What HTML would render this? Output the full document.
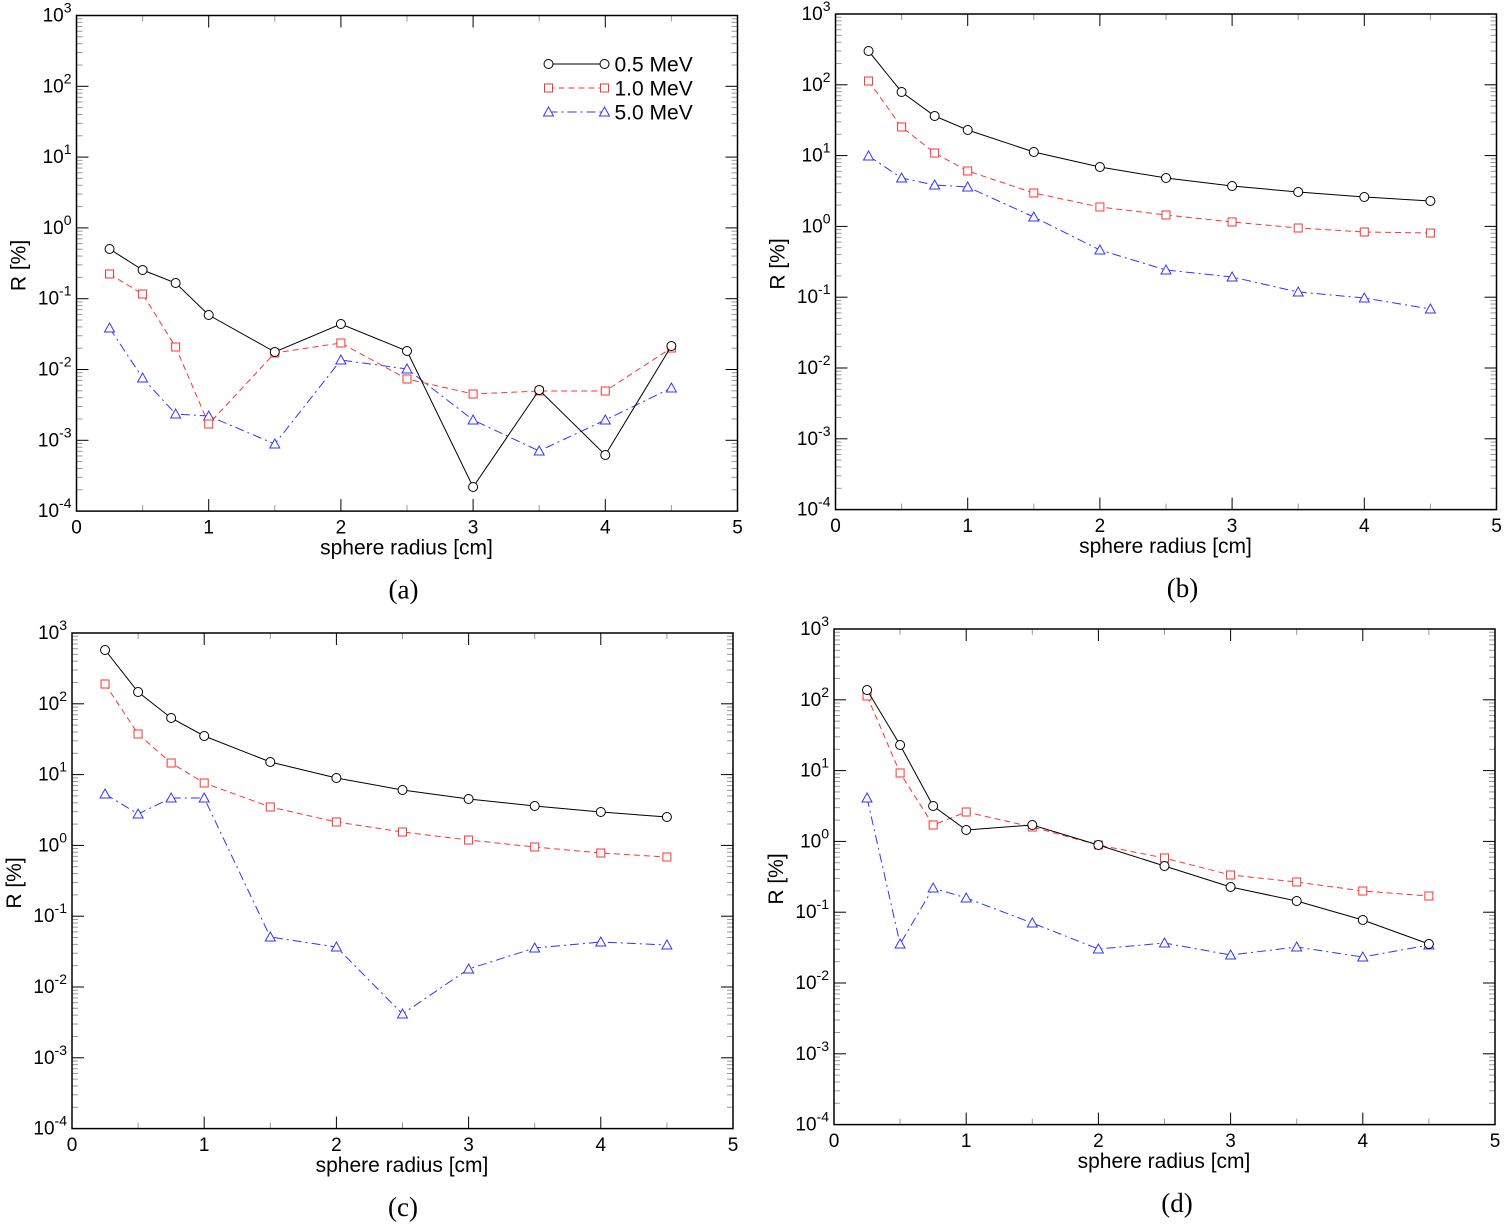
<!DOCTYPE html>
<html><head><meta charset="utf-8"><style>
html,body{margin:0;padding:0;background:#fff;}
svg{display:block;font-family:"Liberation Sans",Arial,sans-serif;}
.yl{font-size:19px;text-anchor:end;}
.yl tspan.s{font-size:14px;}
.xl{font-size:19px;text-anchor:middle;}
.ax{font-size:21px;text-anchor:middle;}
.cap{font-family:"Liberation Serif",serif;font-size:27px;text-anchor:middle;}
.lg{font-size:21px;}
</style></head><body>
<svg id="s" width="1504" height="1228" viewBox="0 0 1504 1228" xmlns="http://www.w3.org/2000/svg">
<g id="pa" transform="translate(76.5,15.5)">
<text class="yl" x="-5" y="6">10<tspan class="s" dy="-9">3</tspan></text>
<text class="yl" x="-5" y="76.8">10<tspan class="s" dy="-9">2</tspan></text>
<text class="yl" x="-5" y="147.6">10<tspan class="s" dy="-9">1</tspan></text>
<text class="yl" x="-5" y="218.4">10<tspan class="s" dy="-9">0</tspan></text>
<text class="yl" x="-5" y="289.2">10<tspan class="s" dy="-9">-1</tspan></text>
<text class="yl" x="-5" y="360">10<tspan class="s" dy="-9">-2</tspan></text>
<text class="yl" x="-5" y="430.8">10<tspan class="s" dy="-9">-3</tspan></text>
<text class="yl" x="-5" y="501.6">10<tspan class="s" dy="-9">-4</tspan></text>
<text class="xl" x="0" y="518">0</text><text class="xl" x="132.2" y="518">1</text><text class="xl" x="264.4" y="518">2</text><text class="xl" x="396.6" y="518">3</text><text class="xl" x="528.8" y="518">4</text><text class="xl" x="661" y="518">5</text>
<text class="ax" x="330" y="539">sphere radius [cm]</text>
<text class="ax" transform="translate(-51,250) rotate(-90)">R [%]</text>
<text class="cap" x="327" y="583">(a)</text>
<text class="lg" x="538" y="56">0.5 MeV</text>
<text class="lg" x="538" y="80">1.0 MeV</text>
<text class="lg" x="538" y="104">5.0 MeV</text>
</g>
<g id="pb" transform="translate(835.5,14)">
<text class="yl" x="-5" y="6">10<tspan class="s" dy="-9">3</tspan></text>
<text class="yl" x="-5" y="76.8">10<tspan class="s" dy="-9">2</tspan></text>
<text class="yl" x="-5" y="147.6">10<tspan class="s" dy="-9">1</tspan></text>
<text class="yl" x="-5" y="218.4">10<tspan class="s" dy="-9">0</tspan></text>
<text class="yl" x="-5" y="289.2">10<tspan class="s" dy="-9">-1</tspan></text>
<text class="yl" x="-5" y="360">10<tspan class="s" dy="-9">-2</tspan></text>
<text class="yl" x="-5" y="430.8">10<tspan class="s" dy="-9">-3</tspan></text>
<text class="yl" x="-5" y="501.6">10<tspan class="s" dy="-9">-4</tspan></text>
<text class="xl" x="0" y="518">0</text><text class="xl" x="132.2" y="518">1</text><text class="xl" x="264.4" y="518">2</text><text class="xl" x="396.6" y="518">3</text><text class="xl" x="528.8" y="518">4</text><text class="xl" x="661" y="518">5</text>
<text class="ax" x="330" y="539">sphere radius [cm]</text>
<text class="ax" transform="translate(-51,250) rotate(-90)">R [%]</text>
<text class="cap" x="347" y="583">(b)</text>
</g>
<g id="pc" transform="translate(72,633)">
<text class="yl" x="-5" y="6">10<tspan class="s" dy="-9">3</tspan></text>
<text class="yl" x="-5" y="76.8">10<tspan class="s" dy="-9">2</tspan></text>
<text class="yl" x="-5" y="147.6">10<tspan class="s" dy="-9">1</tspan></text>
<text class="yl" x="-5" y="218.4">10<tspan class="s" dy="-9">0</tspan></text>
<text class="yl" x="-5" y="289.2">10<tspan class="s" dy="-9">-1</tspan></text>
<text class="yl" x="-5" y="360">10<tspan class="s" dy="-9">-2</tspan></text>
<text class="yl" x="-5" y="430.8">10<tspan class="s" dy="-9">-3</tspan></text>
<text class="yl" x="-5" y="501.6">10<tspan class="s" dy="-9">-4</tspan></text>
<text class="xl" x="0" y="518">0</text><text class="xl" x="132.2" y="518">1</text><text class="xl" x="264.4" y="518">2</text><text class="xl" x="396.6" y="518">3</text><text class="xl" x="528.8" y="518">4</text><text class="xl" x="661" y="518">5</text>
<text class="ax" x="330" y="539">sphere radius [cm]</text>
<text class="ax" transform="translate(-51,250) rotate(-90)">R [%]</text>
<text class="cap" x="331" y="583">(c)</text>
</g>
<g id="pd" transform="translate(834,629)">
<text class="yl" x="-5" y="6">10<tspan class="s" dy="-9">3</tspan></text>
<text class="yl" x="-5" y="76.8">10<tspan class="s" dy="-9">2</tspan></text>
<text class="yl" x="-5" y="147.6">10<tspan class="s" dy="-9">1</tspan></text>
<text class="yl" x="-5" y="218.4">10<tspan class="s" dy="-9">0</tspan></text>
<text class="yl" x="-5" y="289.2">10<tspan class="s" dy="-9">-1</tspan></text>
<text class="yl" x="-5" y="360">10<tspan class="s" dy="-9">-2</tspan></text>
<text class="yl" x="-5" y="430.8">10<tspan class="s" dy="-9">-3</tspan></text>
<text class="yl" x="-5" y="501.6">10<tspan class="s" dy="-9">-4</tspan></text>
<text class="xl" x="0" y="518">0</text><text class="xl" x="132.2" y="518">1</text><text class="xl" x="264.4" y="518">2</text><text class="xl" x="396.6" y="518">3</text><text class="xl" x="528.8" y="518">4</text><text class="xl" x="661" y="518">5</text>
<text class="ax" x="330" y="539">sphere radius [cm]</text>
<text class="ax" transform="translate(-51,250) rotate(-90)">R [%]</text>
<text class="cap" x="343" y="583">(d)</text>
</g>
</svg>
<script>
var NS="http://www.w3.org/2000/svg";
function el(p,t,a){var e=document.createElementNS(NS,t);for(var k in a)e.setAttribute(k,a[k]);p.appendChild(e);return e;}
var W=661,H=495.6,D=H/7;
var panels={
pa:{ox:76.5,oy:15.5,s:[
 [[249,270,283,315,352,324,351,487,390,455,346]],
 [[274,294,347,424,353,343,379,394,391,391,348]],
 [[328,378,414,416,444,360,369,420,451,420,388]]],leg:true},
pb:{ox:835.5,oy:14,s:[
 [[51,92,116,130,152,167,178,186,192,197,201]],
 [[81,127,153,171,193,207,215,222,228,232,233]],
 [[156,178,185,187,217,250,270,277,292,298,309]]]},
pc:{ox:72,oy:633,s:[
 [[650,692,718,736,762,778,790,799,806,812,817]],
 [[684,734,763,783,807,822,832,840,847,853,857]],
 [[794,814,798,798,937,947,1014,969,948,942,945]]]},
pd:{ox:834,oy:629,s:[
 [[690,745,806,830,825,845,866,887,901,920,944]],
 [[696,773,825,812,827,845,858,875,882,891,896]],
 [[798,944,888,898,923,949,943,955,947,957,945]]]}
};
var xs=[0.25,0.5,0.75,1,1.5,2,2.5,3,3.5,4,4.5];
var st=[{c:"#000",d:"",m:"o"},{c:"#f33",d:"6,4",m:"s"},{c:"#33f",d:"9,4,2,4",m:"t"}];
function mk(g,x,y,m,c){
 if(m=="o")el(g,"circle",{cx:x,cy:y,r:4.5,fill:"#fff",stroke:c,"stroke-width":1});
 else if(m=="s")el(g,"rect",{x:x-4,y:y-4,width:8,height:8,fill:"#fff",stroke:c,"stroke-width":1});
 else el(g,"polygon",{points:(x-5)+","+(y+4)+" "+x+","+(y-5)+" "+(x+5)+","+(y+4),fill:"#fff",stroke:c,"stroke-width":1});
}
for(var id in panels){
 var P=panels[id],g=document.getElementById(id);
 var ax=el(g,"g",{});
 for(var d=0;d<7;d++)for(var k=2;k<=9;k++){
  var y=H-(d+Math.log10(k))*D;
  el(ax,"line",{x1:0,x2:6,y1:y,y2:y,stroke:"#999","stroke-width":1});
  el(ax,"line",{x1:W-6,x2:W,y1:y,y2:y,stroke:"#999","stroke-width":1});
 }
 for(var d=1;d<7;d++){var y=H-d*D;
  el(ax,"line",{x1:0,x2:12,y1:y,y2:y,stroke:"#000","stroke-width":1});
  el(ax,"line",{x1:W-12,x2:W,y1:y,y2:y,stroke:"#000","stroke-width":1});}
 for(var i=0;i<=10;i++){var x=i*W/10,l=i%2?6:12,c=i%2?"#999":"#000";
  el(ax,"line",{x1:x,x2:x,y1:H,y2:H-l,stroke:c,"stroke-width":1});
  el(ax,"line",{x1:x,x2:x,y1:0,y2:l,stroke:c,"stroke-width":1});}
 el(ax,"rect",{x:0,y:0,width:W,height:H,fill:"none",stroke:"#000","stroke-width":1.5});
 for(var s=2;s>=0;s--){
  var ys=P.s[s][0],pts=[];
  for(var i=0;i<11;i++)pts.push([xs[i]*W/5,ys[i]-P.oy]);
  var a={points:pts.map(function(p){return p.join(",")}).join(" "),fill:"none",stroke:st[s].c,"stroke-width":1};
  if(st[s].d)a["stroke-dasharray"]=st[s].d;
  el(g,"polyline",a);
  pts.forEach(function(p){mk(g,p[0],p[1],st[s].m,st[s].c);});
 }
 if(P.leg){
  for(var s=0;s<3;s++){var y=48.5+24*s;
   var a={x1:472,x2:528,y1:y,y2:y,stroke:st[s].c,"stroke-width":1};if(st[s].d)a["stroke-dasharray"]=st[s].d;
   el(g,"line",a);mk(g,472,y,st[s].m,st[s].c);mk(g,528,y,st[s].m,st[s].c);}
 }
}
</script>
</body></html>
